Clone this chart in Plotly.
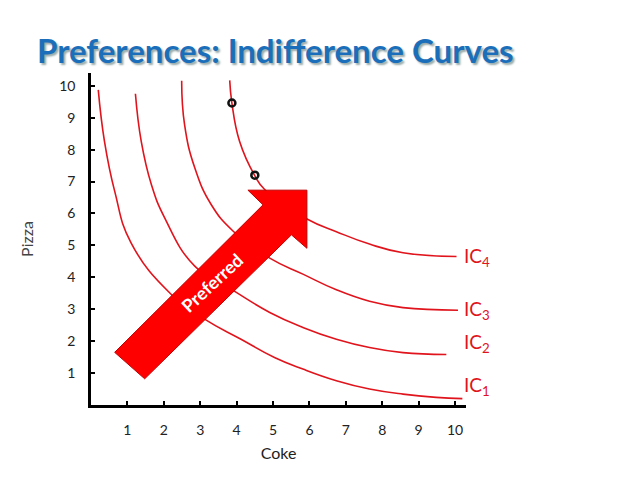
import plotly.graph_objects as go

# Indifference curves (Coke, Pizza)
ic1_x = [0.2, 0.37, 0.65, 1.1, 2.2, 3.12, 4.12, 5.04, 5.82, 6.74, 7.65, 8.57, 9.48, 10.2]
ic1_y = [9.87, 8.26, 6.7, 5.08, 3.47, 2.69, 2.06, 1.49, 1.125, 0.76, 0.5, 0.34, 0.24, 0.2]

ic2_x = [1.22, 1.38, 1.66, 2.02, 2.85, 3.86, 4.91, 5.82, 6.74, 7.65, 8.57, 9.76]
ic2_y = [9.75, 8.26, 6.9, 5.87, 4.35, 3.62, 2.9, 2.43, 2.06, 1.8, 1.64, 1.58]

ic3_x = [2.49, 2.57, 2.85, 3.3, 3.9, 4.91, 5.82, 6.74, 7.65, 8.57, 10.08]
ic3_y = [10.16, 8.78, 7.43, 6.28, 5.45, 4.6, 4.1, 3.61, 3.25, 3.05, 2.97]

ic4_x = [3.81, 3.87, 4.08, 4.49, 4.77, 5.96, 6.74, 7.65, 8.57, 10.04]
ic4_y = [10.17, 9.46, 8.26, 7.2, 6.75, 5.81, 5.43, 5.04, 4.77, 4.65]

curve_names = ["IC<sub>1</sub>", "IC<sub>2</sub>", "IC<sub>3</sub>", "IC<sub>4</sub>"]
label_y = [0.58, 1.95, 2.98, 4.64]

# stray marks on the curve in the original image
mark_x = [3.87, 4.5]
mark_y = [9.46, 7.2]

tick_vals = [1, 2, 3, 4, 5, 6, 7, 8, 9, 10]

RED = "#e0141c"
OFF = 8  # default page body margin in the exported html

fig = go.Figure()
for xs, ys in [(ic1_x, ic1_y), (ic2_x, ic2_y), (ic3_x, ic3_y), (ic4_x, ic4_y)]:
    fig.add_trace(go.Scatter(x=xs, y=ys, mode="lines",
                             line=dict(color=RED, width=1.6, shape="spline", smoothing=1.3),
                             hoverinfo="skip", showlegend=False, cliponaxis=False))

fig.add_trace(go.Scatter(x=mark_x, y=mark_y, mode="markers",
                         marker=dict(symbol="circle-open", size=7, color="#111",
                                     line=dict(width=2.5, color="#111")),
                         showlegend=False, hoverinfo="skip"))

# "Preferred" arrow
arrow_path = ("M 0.65,1.65 L 4.725,6.27 L 4.31,6.73 L 5.93,6.73 "
              "L 5.93,4.91 L 5.505,5.33 L 1.475,0.82 Z")
fig.add_shape(type="path", path=arrow_path, xref="x", yref="y",
              fillcolor="#ff0000", line=dict(color="#c00000", width=1), layer="above")

annotations = [
    dict(x=3.31, y=3.83, xref="x", yref="y", text="<b>Preferred</b>", showarrow=False,
         textangle=-43, font=dict(family="Lato, DejaVu Sans", size=18, color="white")),
]
for name, ly in zip(curve_names, label_y):
    annotations.append(dict(x=10.2, y=ly, xref="x", yref="y", text=name, showarrow=False,
                            xanchor="left", yanchor="middle",
                            font=dict(family="Lato, DejaVu Sans", size=19, color=RED)))

fig.update_layout(
    width=640, height=480,
    margin=dict(l=91 - OFF, r=174 + OFF, t=73 - OFF, b=75 + OFF),
    paper_bgcolor="white", plot_bgcolor="white",
    title=dict(text="<b>Preferences: Indifference Curves</b>", x=(37 - OFF) / 640, xanchor="left",
               y=1 - (51 - OFF) / 480, yanchor="middle",
               font=dict(family="Lato, Open Sans", size=33, color="#1b6fba",
                         shadow="2px 2px 2px #9aa")),
    annotations=annotations,
    xaxis=dict(range=[0, 10.3], tickvals=tick_vals, showgrid=False, zeroline=False,
               automargin=False,
               showline=True, linecolor="black", linewidth=2.5, ticks="inside", ticklen=4,
               tickcolor="black", tickwidth=1.5, ticklabelstandoff=10,
               tickfont=dict(family="Lato, DejaVu Sans", size=14, color="#222"),
               title=dict(text="Coke", font=dict(family="Lato, DejaVu Sans", size=16, color="#222"),
                          standoff=12)),
    yaxis=dict(range=[0, 10.4], tickvals=tick_vals, showgrid=False, zeroline=False,
               automargin=False,
               showline=True, linecolor="black", linewidth=2.5, ticks="inside", ticklen=4,
               tickcolor="black", tickwidth=1.5, ticklabelstandoff=10,
               tickfont=dict(family="Lato, DejaVu Sans", size=14, color="#222"),
               title=dict(text="Pizza", font=dict(family="Lato, DejaVu Sans", size=16, color="#444"),
                          standoff=22)),
)

fig.write_html("out.html")
